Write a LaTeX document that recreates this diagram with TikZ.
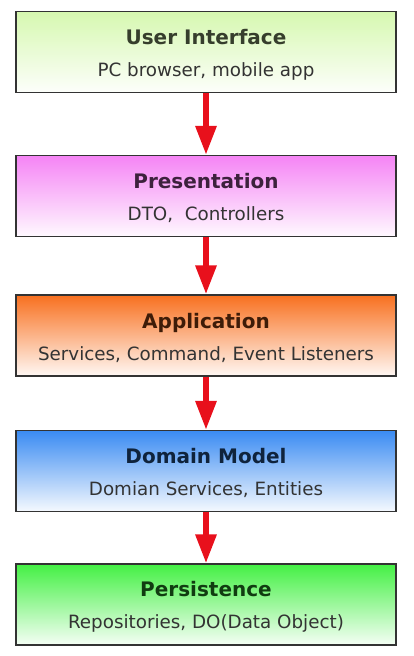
\documentclass[tikz,border=0pt]{standalone}
\usepackage{fontspec}
\setmainfont{DejaVu Sans}
\usepackage{xcolor}
\usetikzlibrary{positioning,arrows.meta}
\definecolor{Edge}{HTML}{333333}
\definecolor{Ink}{HTML}{333333}
\definecolor{Leaf}{HTML}{D6F8B0}
\definecolor{Orchid}{HTML}{F584F5}
\definecolor{Ember}{HTML}{F8701F}
\definecolor{Sky}{HTML}{3A8BF2}
\definecolor{Lime}{HTML}{44F044}
\definecolor{Flow}{HTML}{E8101C}
\newcommand{\layertitle}[1]{\rule{0pt}{20pt}{\bfseries\fontsize{20}{32}\selectfont #1}}

\begin{document}
\begin{tikzpicture}[x=1pt,y=1pt,
  layer/.style={draw=Edge,line width=1.2pt,top color=#1,middle color=#1!55,bottom color=#1!5,minimum width=380pt,minimum height=81pt,inner sep=0pt,align=center,text=#1!25!black,font=\fontsize{18.3}{32}\selectfont},
  flow/.style={-{Triangle[length=29pt,width=20pt]},Flow,line width=6pt}
]
\useasboundingbox (0,0) rectangle (413,-656);
\node[layer=Leaf] (ui) at (206,-52) {\layertitle{User Interface}\\\textcolor{Ink}{PC browser, mobile app}};
\node[layer=Orchid] (pres) at (206,-196) {\layertitle{Presentation}\\\textcolor{Ink}{DTO,\ \ Controllers}};
\node[layer=Ember] (app) at (206,-335.5) {\layertitle{Application}\\\textcolor{Ink}{Services, Command, Event Listeners}};
\node[layer=Sky] (dom) at (206,-471) {\layertitle{Domain Model}\\\textcolor{Ink}{Domian Services, Entities}};
\node[layer=Lime] (pers) at (206,-604.5) {\layertitle{Persistence}\\\textcolor{Ink}{Repositories, DO(Data Object)}};
\draw[flow] (ui)--(pres);
\draw[flow] (pres)--(app);
\draw[flow] (app)--(dom);
\draw[flow] (dom)--(pers);
\end{tikzpicture}
\end{document}
